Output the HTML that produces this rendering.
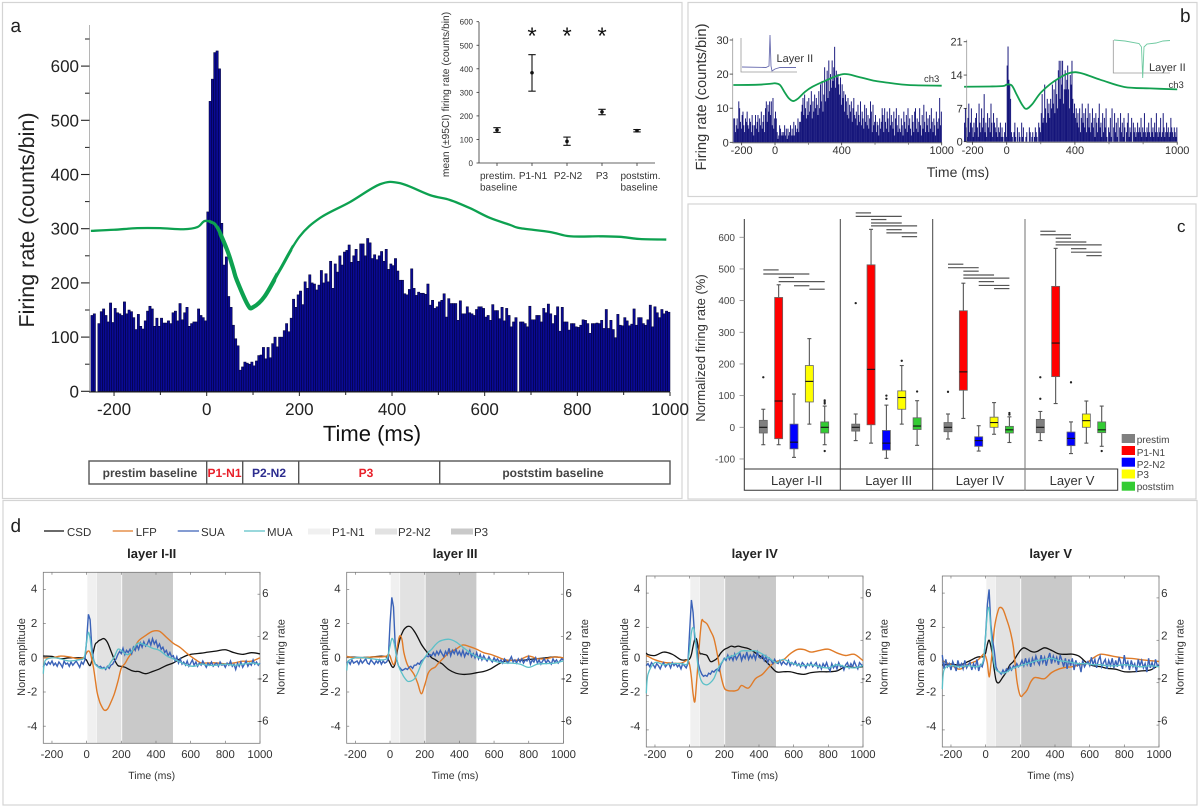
<!DOCTYPE html>
<html lang="en">
<head>
<meta charset="utf-8">
<title>Firing rate figure</title>
<style>
html,body{margin:0;padding:0;background:#fff;width:1200px;height:808px;overflow:hidden}
svg{display:block;filter:blur(.35px);font-family:"Liberation Sans",sans-serif;text-rendering:geometricPrecision}
</style>
</head>
<body>
<svg id="fig" xmlns="http://www.w3.org/2000/svg" width="1200" height="808" viewBox="0 0 1200 808">
  <defs>
    <clipPath id="taperMid"><rect id="taperMidRect" y="0" height="500"/></clipPath>
    <clipPath id="taperCore"><rect id="taperCoreRect" y="0" height="500"/></clipPath>
  </defs>
  <rect width="1200" height="808" fill="#fff"/>
  <rect x="2.5" y="2.5" width="679.5" height="496" fill="none" stroke="#d4d4d4" stroke-width="1.2"/>
  <rect x="688" y="2.5" width="509" height="194" fill="none" stroke="#d4d4d4" stroke-width="1.2"/>
  <rect x="688" y="204" width="508" height="295" fill="none" stroke="#d4d4d4" stroke-width="1.2"/>
  <rect x="3" y="500.5" width="1194" height="304.5" fill="none" stroke="#d4d4d4" stroke-width="1.2"/>

  <g id="panelA">
    <text x="10.5" y="32" font-size="19" fill="#222">a</text>
    <text transform="translate(34,220) rotate(-90)" text-anchor="middle" font-size="21.5" fill="#222">Firing rate (counts/bin)</text>
    <text x="372" y="441" text-anchor="middle" font-size="22" fill="#111">Time (ms)</text>
    <g>
      <rect x="89" y="461" width="581" height="23" fill="#fff" stroke="#555" stroke-width="1.4"/>
      <line x1="206.7" x2="206.7" y1="461" y2="484" stroke="#555" stroke-width="1.4"/>
      <line x1="242.7" x2="242.7" y1="461" y2="484" stroke="#555" stroke-width="1.4"/>
      <line x1="298.7" x2="298.7" y1="461" y2="484" stroke="#555" stroke-width="1.4"/>
      <line x1="439.7" x2="439.7" y1="461" y2="484" stroke="#555" stroke-width="1.4"/>
      <g font-size="12" font-weight="bold" text-anchor="middle">
        <text x="150" y="477" fill="#444">prestim baseline</text>
        <text x="224.5" y="477" fill="#e8202a">P1-N1</text>
        <text x="269" y="477" fill="#2d2d8f">P2-N2</text>
        <text x="366" y="477" fill="#e8202a">P3</text>
        <text x="553" y="477" fill="#444">poststim baseline</text>
      </g>
    </g>
    <text transform="translate(449,94.5) rotate(-90)" text-anchor="middle" font-size="10.3" fill="#333">mean (±95CI) firing rate (counts/bin)</text>
  </g>

  <g id="panelB">
    <text x="1180" y="22" font-size="19" fill="#222">b</text>
    <text transform="translate(706,97) rotate(-90)" text-anchor="middle" font-size="14.7" fill="#333">Firing rate (counts/bin)</text>
    <text x="958" y="177" text-anchor="middle" font-size="14" fill="#333">Time (ms)</text>
    <text x="924" y="82" font-size="9.5" fill="#333">ch3</text>
    <text x="1168.5" y="88" font-size="9.5" fill="#333">ch3</text>
    <text x="776.5" y="62" font-size="11" fill="#333">Layer II</text>
    <text x="1149" y="71" font-size="11" fill="#333">Layer II</text>
    <polyline points="741,38 741,72 797,72" fill="none" stroke="#999" stroke-width=".8"/>
    <polyline points="1113.3,40 1113.3,73 1170,73" fill="none" stroke="#999" stroke-width=".8"/>
    <polyline points="742,67 766,67.5 769,66 770,35 771,66 772,71 775,69 780,67.5 796,67.5" fill="none" stroke="#6a6db0" stroke-width=".9"/>
    <polyline points="1114,40 1125,41 1139,43.5 1141.5,47 1142.7,78 1144,47 1147,44 1156,43 1163,41 1170,40.5" fill="none" stroke="#6ec9a0" stroke-width=".9"/>
  </g>

  <g id="panelC">
    <text x="1177" y="232" font-size="17" fill="#222">c</text>
    <text transform="translate(705,348) rotate(-90)" text-anchor="middle" font-size="13" fill="#333">Normalized firing rate (%)</text>
    <polyline points="744.3,219 744.3,490.3 1117.7,490.3 1117.7,469 744.3,469" fill="none" stroke="#333" stroke-width="1"/>
    <line x1="840.3" x2="840.3" y1="219" y2="490.3" stroke="#444" stroke-width="1"/>
    <line x1="932.7" x2="932.7" y1="219" y2="490.3" stroke="#444" stroke-width="1"/>
    <line x1="1025" x2="1025" y1="219" y2="490.3" stroke="#888" stroke-width="1.2"/>
    <g font-size="13" text-anchor="middle" fill="#333">
      <text x="796.7" y="485">Layer I-II</text>
      <text x="888.7" y="485">Layer III</text>
      <text x="980" y="485">Layer IV</text>
      <text x="1072" y="485">Layer V</text>
    </g>
    <g font-size="10" fill="#444">
      <rect x="1121.7" y="434" width="13.3" height="9" fill="#808080"/>
      <text x="1136.7" y="443">prestim</text>
      <rect x="1121.7" y="446" width="13.3" height="9" fill="#f00"/>
      <text x="1136.7" y="456">P1-N1</text>
      <rect x="1121.7" y="457.7" width="13.3" height="9" fill="#00f"/>
      <text x="1136.7" y="468">P2-N2</text>
      <rect x="1121.7" y="469.5" width="13.3" height="9" fill="#ff0"/>
      <text x="1136.7" y="478">P3</text>
      <rect x="1121.7" y="481.7" width="13.3" height="9" fill="#33cc33"/>
      <text x="1136.7" y="490">poststim</text>
    </g>
  </g>

  <g id="panelD">
    <text x="10.5" y="532" font-size="19" fill="#222">d</text>
    <g font-size="11.5" fill="#333">
      <line x1="44" x2="64" y1="531" y2="531" stroke="#111" stroke-width="1.3"/>
      <text x="67" y="536">CSD</text>
      <line x1="112.7" x2="133" y1="531" y2="531" stroke="#e07b28" stroke-width="1.3"/>
      <text x="135.7" y="536">LFP</text>
      <line x1="177.7" x2="199" y1="531" y2="531" stroke="#3a62b8" stroke-width="1.3"/>
      <text x="201" y="536">SUA</text>
      <line x1="244" x2="265" y1="531" y2="531" stroke="#5cc0c8" stroke-width="1.3"/>
      <text x="267" y="536">MUA</text>
      <rect x="308" y="528.5" width="22" height="6" fill="#f0f0f0"/>
      <text x="332" y="536">P1-N1</text>
      <rect x="375" y="528.5" width="22" height="6" fill="#e2e2e2"/>
      <text x="398" y="536">P2-N2</text>
      <rect x="451" y="528.5" width="22" height="6" fill="#c9c9c9"/>
      <text x="474" y="536">P3</text>
    </g>
  </g>
</svg>

<script>
/* ---------- panel a data ---------- */
const psthTicksY = [0,100,200,300,400,500,600];
const psthTicksX = [-200,0,200,400,600,800,1000];
const psthCounts = [
140,143,0,125,147,152,140,128,163,127,
153,145,143,140,165,143,150,147,136,114,
142,120,115,130,148,157,152,120,135,120,
135,126,126,130,125,145,148,130,162,132,
145,155,120,125,128,128,152,140,136,130,
331,535,576,625,628,595,310,233,248,175,
155,122,97,84,39,45,54,52,50,54,
47,56,66,67,81,60,81,62,88,100,
82,100,100,112,125,110,135,170,155,178,
185,160,202,190,215,200,198,187,196,223,
200,217,202,240,190,235,220,250,233,257,
260,270,238,250,262,240,272,272,250,282,
274,245,252,243,250,258,240,262,225,235,
232,245,222,205,205,180,178,188,226,190,
177,183,181,181,179,198,159,168,153,156,
165,168,180,137,171,162,162,162,131,167,
143,143,156,145,143,140,151,156,156,153,
137,140,131,160,149,149,134,155,130,153,
140,119,128,136,0,128,128,125,119,157,
132,132,140,140,128,153,145,161,143,125,
140,156,111,155,128,128,113,125,125,119,
118,122,132,131,125,107,125,125,126,125,
131,116,151,116,131,114,99,142,122,121,
136,130,121,124,152,122,136,136,125,122,
132,159,119,156,145,136,151,143,148,146];
const lfpTimesA = [-250,-200,-150,-100,-50,-20,-5,10,22,44,57,65,89,100,125,158,200,245,309,374,417,482,525,568,611,655,676,741,784,849,892,935,992];
const lfpValuesA = [296,298,301,301,299,303,314,312,303,261,227,205,159,155,175,224,285,320,349,382,384,362,353,338,320,307,301,294,286,286,285,281,280];
const insetCategories = ['prestim.|baseline','P1-N1','P2-N2','P3','poststim.|baseline'];
const insetMeans = [140,383,92,217,137];
const insetLow = [130,305,75,205,132];
const insetHigh = [150,460,110,228,142];
const insetTicks = [0,100,200,300,400,500,600];
const insetStars = [1,2,3];

/* ---------- panel b data ---------- */
const unitTicksX = [-200,0,400,1000];
const unitMinorTicksX = [200,600,800];
const leftTicksY = [0,10,20,30];
const rightTicksY = [0,7,14,21];
const leftCounts = [
7,7,3,5,7,4,12,10,6,4,8,9,5,3,7,6,9,5,4,7,6,3,8,5,2,5,8,4,6,8,3,7,5,9,4,6,8,3,10,12,6,11,9,12,8,12,5,13,4,7,
9,7,3,1,2,5,4,2,3,2,3,5,2,4,1,4,2,3,5,2,4,2,6,2,5,3,4,7,3,6,6,9,11,13,8,14,10,7,12,8,13,9,11,15,7,12,9,14,10,13,
11,8,15,10,17,12,18,9,14,22,12,18,21,13,24,15,20,16,24,18,22,28,16,21,19,20,17,14,19,11,17,13,15,9,14,12,8,13,7,11,9,12,6,10,13,8,7,9,5,11,
8,6,12,5,9,7,4,11,6,10,5,8,4,7,12,9,3,11,5,6,8,3,6,5,2,7,4,6,10,8,3,10,6,4,9,7,3,10,5,8,6,4,9,2,7,10,5,3,8,4,
3,7,5,2,9,6,4,8,3,10,5,7,4,2,8,6,3,9,10,4,7,3,6,10,5,2,8,4,11,6,3,9,5,7,3,8,4,10,6,3,7,5,2,9,6,4,7,13,5,9];
const rightCounts = [
4,7,3,1,5,8,2,4,7,3,1,4,2,5,6,3,1,8,4,2,7,3,5,10,2,4,1,6,3,5,2,8,4,1,6,4,3,2,5,1,3,2,4,1,3,1,0,2,4,1,
16,20,13,12,9,2,1,0,2,4,1,0,3,0,2,1,0,4,1,3,0,0,1,2,0,0,3,2,0,1,2,0,1,3,2,1,0,4,3,2,6,10,4,5,12,7,4,9,6,8,
5,9,7,12,8,11,6,13,10,7,15,17,9,17,12,17,8,11,15,11,13,16,11,7,14,12,17,9,6,8,5,7,4,6,3,7,2,5,8,4,6,3,7,2,5,8,3,6,2,4,
7,3,5,1,6,4,2,5,8,3,4,1,6,2,5,3,7,1,0,3,2,5,1,7,0,3,6,2,4,1,5,0,3,6,2,4,1,5,3,0,2,4,6,1,3,2,5,0,4,2,
3,1,2,4,2,3,2,5,1,3,2,6,2,1,3,2,4,2,1,5,2,3,1,4,2,6,2,1,3,2,5,1,2,6,3,1,2,4,2,3,1,2,5,3,2,1,3,2,1,3];
const leftLineTimes = [-250,-100,-20,0,30,60,85,110,140,180,225,300,408,500,600,690,800,1000];
const leftLineValues = [16.8,16.9,17.2,17.3,16.8,14.5,12.8,12.1,12.9,14.8,16.3,18,20,19.2,18,17.4,16.8,16.6];
const rightLineTimes = [-250,-100,-20,0,30,60,90,115,150,205,300,403,550,690,840,1000];
const rightLineValues = [11.55,11.6,11.7,12,11.8,9.8,7.8,6.9,7.9,10.5,13.2,14.6,13,11.5,11.2,11];

/* ---------- panel c data ---------- */
const boxTicks = [-100,0,100,200,300,400,500,600];
const boxColors = ['#808080','#ff0000','#0000ff','#ffff00','#33cc33'];
const layerIBoxes = [[-55,-18,0,22,57],[-55,-36,83,410,450],[-95,-68,-47,10,105],[10,80,145,195,280],[-55,-18,0,17,67]];
const layerIIIBoxes = [[-42,-12,0,10,42],[-50,8,183,513,625],[-98,-72,-50,-10,70],[10,57,94,115,195],[-57,-7,4,30,84]];
const layerIVBoxes = [[-37,-14,0,15,42],[28,117,175,368,455],[-75,-60,-42,-30,5],[-22,0,15,32,78],[-48,-18,-8,3,33]];
const layerVBoxes = [[-42,-17,0,25,50],[75,160,266,445,565],[-83,-58,-35,-15,17],[-50,0,21,42,83],[-60,-17,-8,17,67]];
const layerIOutliers = [[158],[],[],[],[75,80,85,-75]];
const layerIIIOutliers = [[392],[],[90,100],[210],[113]];
const layerIVOutliers = [[112],[],[],[],[40,45]];
const layerVOutliers = [[90,158],[],[142],[],[-75]];
const layerISig = [[0,1,497],[0,3,484],[1,2,473],[1,4,460],[2,3,447],[3,4,436]];
const layerIIISig = [[0,1,677],[0,3,666],[1,2,656],[1,3,645],[1,4,636],[2,3,624],[2,4,614],[3,4,602]];
const layerIVSig = [[0,1,515],[0,2,504],[1,2,493],[1,3,481],[1,4,471],[2,3,460],[2,4,448],[3,4,438]];
const layerVSig = [[0,1,619],[0,2,608],[1,2,597],[1,3,585],[1,4,576],[2,3,564],[2,4,553],[3,4,542]];

/* ---------- panel d data ---------- */
const signalTimes = [-250,-240,-200,-150,-100,-50,-20,-10,0,10,20,30,40,50,60,70,80,100,120,140,160,180,200,220,240,260,280,300,340,380,420,460,500,540,580,620,660,700,750,800,850,900,950,1000];
const csdI = [.1,.1,.08,-.05,0,0,0,-.05,-.15,-.35,-.45,-.15,.4,.8,.9,1,1.05,1.12,.9,.4,-.1,-.45,-.5,-.55,-.65,-.75,-.8,-.8,-.93,-.8,-.65,-.45,-.3,-.05,.15,.23,.27,.33,.4,.47,.3,.2,.3,.23];
const lfpI = [0,0,0,.1,.05,-.05,0,.1,.3,.4,.3,-.1,-.6,-1.3,-2,-2.4,-2.7,-3.05,-3,-2.6,-2.1,-1.4,-.6,-.35,0,.3,.65,1,1.3,1.55,1.55,1.2,.85,.6,.25,-.05,-.3,-.3,-.3,-.35,-.3,-.2,-.2,0];
const muaI = [-1.5,-.3,0,-.1,-.3,-.2,-.1,.3,1.5,2.4,1.8,.5,-.2,-.6,-.8,-.9,-1,-1,-.9,-.4,.1,.8,.7,.4,.3,.6,1.1,1.4,1.2,.9,.7,.2,-.1,-.4,-.7,-.8,-.6,-.7,-.7,-.6,-.7,-.6,-.5,-.6];
const csdIII = [.05,.05,.03,.02,.05,.1,.05,-.1,-.3,-.5,-.55,-.3,.3,.8,1.2,1.45,1.65,1.83,1.8,1.55,1.2,.8,.5,.25,0,-.1,-.25,-.35,-.7,-.9,-.97,-.95,-.87,-.8,-.65,-.4,-.2,-.15,-.15,-.1,-.05,0,.05,0];
const lfpIII = [.1,.05,0,0,.05,.05,.1,.2,.1,-.2,-.4,-.2,.5,1.1,1.3,1,.3,-.4,-.7,-1,-1.5,-2.1,-1.6,-.9,-.65,-.55,-.3,-.1,.3,.5,.75,.65,.5,.3,.2,.05,-.1,-.15,-.1,.1,-.05,-.05,.05,0];
const muaIII = [-1.2,-.3,0,0,-.1,-.2,-.1,.3,1.1,1.8,1.6,.8,-.2,-.8,-1.2,-1.5,-1.8,-2.2,-2.2,-2,-1.4,-.6,0,.5,.8,1.2,1.5,1.65,1.75,1.5,1,.5,.1,-.1,-.2,-.4,-.5,-.5,-.6,-.9,-.6,-.55,-.5,-.3];
const csdIV = [.5,.4,.35,.55,.42,.1,.1,.1,.15,.4,.9,1.3,1.3,.8,.47,.45,.42,.35,0,.05,.2,.5,.7,.8,.9,.85,.9,.85,.75,.5,.2,-.2,-.6,-.6,-.6,-.7,-.75,-.65,-.6,-.6,-.55,-.3,-.35,-.3];
const lfpIV = [.35,.3,.1,-.05,-.1,-.1,.05,.1,-.2,-.9,-1.9,-2.35,-1.2,.1,1.5,2.4,2.35,2.2,1.8,1.35,.4,-.8,-1.55,-1.7,-1.72,-1.72,-1.65,-1.4,-1.55,-1,-.75,-.3,0,.1,.45,.7,.7,.55,.65,.72,.5,.35,.42,.05];
const muaIV = [-3,-1.2,-.1,-.3,-.2,-.2,-.3,0,1.2,2.7,3.2,2.6,.8,-.7,-1.5,-1.9,-2.1,-2.2,-2,-1.6,-.8,-.2,.2,.4,.5,.6,.8,1,1,1,.7,.3,-.1,.2,-.1,-.3,-.4,-.3,-.5,-.6,-.3,-.5,-.6,-.4];
const csdV = [-.2,-.2,-.15,-.2,0,.25,.27,.3,.5,1,1.25,.9,.3,-.5,-1.1,-1.25,-1.2,-.9,-.6,-.2,0,.35,.65,.8,.72,.6,.55,.6,.8,.65,.45,.42,.43,.3,-.05,-.25,-.3,-.4,-.45,-.6,-.6,-.55,-.5,-.2];
const lfpV = [.1,0,-.2,-.45,-.15,.05,.35,.45,.3,-.1,-.9,-.2,.8,1.9,2.5,2.9,3.15,3.05,2.5,1.85,.85,-1.1,-2,-1.9,-1.65,-1.2,-.95,-.95,-1,-.65,-.45,-.35,-.3,-.2,-.1,.2,.42,.38,.28,.2,.17,.1,.05,0];
const muaV = [-2.6,-.8,-.4,-.5,-.4,-.5,-.2,.5,2.5,4.6,5,3,1,-.3,-.8,-.9,-1,-1.1,-1,-.8,-.6,-.5,-.4,-.3,-.2,-.1,0,.1,.2,.3,.1,0,-.1,-.2,-.2,-.3,-.3,-.4,-.4,-.3,-.4,-.5,-.4,-.5];
const suaI = [-.9,-.5,-.7,-.4,-.6,-.3,-.7,-.5,-.8,-.4,-.6,-.9,-.3,-.6,-.5,-.8,-.4,-.7,-.5,-.3,-.6,-.9,-.4,-.6,-.2,
1.6,4.1,3.6,1,-.2,-.6,-.7,-.9,-.8,-1,-.9,-1.1,-.8,-1,-.7,-.6,-.3,-.1,.3,.6,.4,.9,.3,.7,.5,
.8,.4,1,.7,1.2,.8,1.4,1,1.5,1.1,1.3,1.7,1.2,1.8,1.3,1.6,1,1.3,.8,1,.5,.7,.2,.5,.1,
.2,-.3,.1,-.5,-.1,-.6,-.4,-.7,-.3,-.8,-.5,-.2,-.7,-.4,-.8,-.5,-.7,-.3,-.6,-.9,-.5,-.7,-.4,-.8,-.6,
-.5,-.8,-.4,-.7,-.6,-.9,-.5,-.7,-.3,-.8,-.6,-1.1,-.5,-.8,-.4,-.9,-.6,-.3,-.8,-.5,-.7,-.2,-.6,-.4,-.7,-.5];
const suaIII = [-.5,-.3,-.6,-.2,-.5,-.4,-.3,-.6,-.2,-.5,-.3,-.1,-.5,-.6,-.2,-.4,-.6,-.3,-.5,-.2,-.6,-.3,-.5,-.4,-.1,
3.2,5.7,4.8,1.2,-.3,-.8,-1,-1.2,-1.1,-1,-1.1,-.9,-.8,-1,-.7,-.7,-.5,-.6,-.3,-.2,0,.2,.1,.3,.2,
.5,.2,.6,.3,.7,.4,.1,.6,.3,.9,.2,.7,.4,.8,.3,.6,.2,.7,.1,.5,.3,.7,.1,.4,0,
.5,-.1,.3,-.2,.2,-.1,-.3,.1,-.2,-.4,0,-.3,-.1,-.4,-.2,-.5,-.1,-.3,-.5,-.2,.1,-.4,-.2,-.5,-.1,
-.4,-.1,-.5,-.2,-.3,.1,-.6,-.2,-.4,0,-.5,-.2,-.6,-.3,-.1,-.5,-.2,-.4,-.6,-.1,-.4,-.2,-.5,-.3,-.1,-.2];
const suaIV = [-.4,-.2,-.5,-.1,-.3,-.6,-.2,-.4,-.7,-.3,-.1,-.5,-.3,-.2,-.6,-.1,-.4,-.2,-.5,-.3,-.7,-.2,-.4,-.6,-.2,
2.8,5.8,4.6,2.1,1.6,-.2,-.8,-1.2,-1.4,-1.3,-1.4,-1.1,-1.2,-.9,-1,-.8,-.7,-.9,-.3,0,.3,.1,.6,.2,.5,
.1,.7,.2,.5,.8,.1,.6,.3,.9,.2,.6,.3,.7,.2,.9,.4,.3,.6,.1,.5,-.1,.3,.1,-.2,.2,
-.1,-.2,.1,-.3,0,-.2,-.3,.1,-.4,-.1,-.3,0,-.4,-.2,-.5,-.1,-.3,-.6,-.2,-.4,-.1,-.5,-.3,-.1,-.6,
-.3,-.7,-.2,-.5,-.1,-.6,-.9,-.2,-.6,-.3,-.7,-.1,-.5,-.4,-.8,-.3,-.1,-.6,-.2,-.5,0,-.4,-.7,-.1,-.3,-.4];
const suaV = [.6,-.7,.2,-.5,-.2,-.8,0,-.4,-.9,.1,-.5,-.2,-.7,.1,-.6,-.3,-.1,-.8,-.2,-.6,.2,-.9,-.3,-.5,.1,
2.5,5.4,6.8,3.5,2,1,-.5,-.9,-1,-1.2,-.8,-1.1,-.7,-.9,-.5,-.8,-.4,-.6,-.2,-.5,-.3,.1,-.4,.3,-.3,
.2,-.5,.3,-.2,.5,0,-.3,.6,-.1,.4,-.4,.3,.8,-.2,.5,0,.4,-.3,.6,.1,-.5,.3,-.7,.2,-.4,
.3,-.8,.1,-.4,-.2,-1,.1,-.5,-.2,0,-.4,.4,-.3,.2,-.6,.1,.5,-.5,-.1,.2,-.7,.1,-.4,.3,-.6,
.1,-.5,.4,-.2,-.7,.6,-.4,0,-.8,.1,-.5,-.2,-1,.2,-.4,.1,-.6,-.2,-1,.3,-.6,-.1,-.7,.2,-.4,-.3];
const amplitudeTicks = [-4,-2,0,2,4];
const firingTicks = [-6,-2,2,6];
const timeTicks = [-200,0,200,400,600,800,1000];
const epochStart = [4,58,205];
const epochEnd = [55,200,498];
const epochShades = ['#f0f0f0','#e2e2e2','#c9c9c9'];

/* ---------- helpers ---------- */
const NS = 'http://www.w3.org/2000/svg';
function add(parent, tag, attrs, text) {
  const el = document.createElementNS(NS, tag);
  for (const k in attrs) el.setAttribute(k, attrs[k]);
  if (text !== undefined) el.textContent = text;
  parent.appendChild(el);
  return el;
}
function curve(xs, ys) {
  let d = 'M' + xs[0].toFixed(2) + ' ' + ys[0].toFixed(2);
  for (let i = 0; i < xs.length - 1; i++) {
    const a = Math.max(i - 1, 0), b = Math.min(i + 2, xs.length - 1);
    const c1x = xs[i] + (xs[i + 1] - xs[a]) / 6, c1y = ys[i] + (ys[i + 1] - ys[a]) / 6;
    const c2x = xs[i + 1] - (xs[b] - xs[i]) / 6, c2y = ys[i + 1] - (ys[b] - ys[i]) / 6;
    d += 'C' + c1x.toFixed(2) + ' ' + c1y.toFixed(2) + ' ' + c2x.toFixed(2) + ' ' + c2y.toFixed(2) + ' ' + xs[i + 1].toFixed(2) + ' ' + ys[i + 1].toFixed(2);
  }
  return d;
}

/* ---------- panel a ---------- */
const panelA = document.getElementById('panelA');
const xA = t => 206.7 + t * 0.4633;
const yA = v => 391.3 - v * 0.542;
const binA = 5;
psthCounts.forEach((c, i) => {
  const t = -250 + i * binA;
  const bar = add(panelA, 'rect', {x: xA(t), y: yA(c), width: binA * 0.4633, height: yA(0) - yA(c), fill: '#0a0a94', stroke: '#000030', 'stroke-width': 0.5});
  
  
});
const aAxisY = add(panelA, 'line', {x1: 89.5, x2: 89.5, y1: 25, y2: 392, stroke: '#b5b5b5', 'stroke-width': 1});


const aAxisX = add(panelA, 'line', {x1: 89, x2: 670, y1: 392, y2: 392, stroke: '#222', 'stroke-width': 1});


psthTicksY.forEach(v => {
  const tick = add(panelA, 'line', {x1: 81, x2: 89.5, y1: yA(v), y2: yA(v), stroke: '#222', 'stroke-width': 1.1});
  
  
  const minor = add(panelA, 'line', {x1: 85, x2: 89.5, y1: yA(v + 50), y2: yA(v + 50), stroke: '#222', 'stroke-width': 1});
  
  
  const label = add(panelA, 'text', {x: 79, y: yA(v) + 6, 'text-anchor': 'end', 'font-size': 17, fill: '#222'}, String(v));
  
  
});
psthTicksX.forEach(t => {
  const tick = add(panelA, 'line', {x1: xA(t), x2: xA(t), y1: 392, y2: 396, stroke: '#222', 'stroke-width': 1});
  
  
  if (t < 1000) {
    const minor = add(panelA, 'line', {x1: xA(t + 100), x2: xA(t + 100), y1: 392, y2: 395, stroke: '#222', 'stroke-width': 1});
    
    
  }
  const label = add(panelA, 'text', {x: xA(t), y: 415, 'text-anchor': 'middle', 'font-size': 17, fill: '#222'}, String(t));
  
  
});
const lfpAPath = curve(lfpTimesA.map(xA), lfpValuesA.map(yA));
const lfpA = add(panelA, 'path', {d: lfpAPath, fill: 'none', stroke: '#0da150', 'stroke-width': 2.3});


const taperMid = document.getElementById('taperMidRect');
taperMid.setAttribute('x', xA(5));
taperMid.setAttribute('width', xA(185) - xA(5));
const taperCore = document.getElementById('taperCoreRect');
taperCore.setAttribute('x', xA(25));
taperCore.setAttribute('width', xA(150) - xA(25));
const lfpAMid = add(panelA, 'path', {d: lfpAPath, fill: 'none', stroke: '#0da150', 'stroke-width': 3.1, 'clip-path': 'url(#taperMid)'});


const lfpACore = add(panelA, 'path', {d: lfpAPath, fill: 'none', stroke: '#0da150', 'stroke-width': 4.2, 'clip-path': 'url(#taperCore)'});



/* inset */
const xI = i => 497 + i * 35;
const yI = v => 163 - v * 0.2355;
const insetY = add(panelA, 'line', {x1: 479, x2: 479, y1: 22, y2: 163, stroke: '#333', 'stroke-width': 0.8});


const insetX = add(panelA, 'line', {x1: 479, x2: 655, y1: 163, y2: 163, stroke: '#333', 'stroke-width': 0.8});


insetTicks.forEach(v => {
  const t = add(panelA, 'line', {x1: 476.5, x2: 479, y1: yI(v), y2: yI(v), stroke: '#333', 'stroke-width': 0.8});
  
  
  const l = add(panelA, 'text', {x: 473, y: yI(v) + 3, 'text-anchor': 'end', 'font-size': 8, fill: '#333'}, String(v));
  
  
});
insetCategories.forEach((c, i) => {
  const t = add(panelA, 'line', {x1: xI(i), x2: xI(i), y1: 163, y2: 166, stroke: '#333', 'stroke-width': 0.8});
  
  
  const parts = c.split('|');
  parts.forEach((p, k) => {
    const anchorX = i === 0 ? 480 : (i === 4 ? 620.5 : xI(i) + (i === 1 ? 1 : i === 2 ? 1 : 0));
    const l = add(panelA, 'text', {x: anchorX, y: 179 + k * 11.5, 'text-anchor': (i === 0 || i === 4) ? 'start' : 'middle', 'font-size': 10, fill: '#333'}, p);
    
    
  });
  const stem = add(panelA, 'line', {x1: xI(i), x2: xI(i), y1: yI(insetLow[i]), y2: yI(insetHigh[i]), stroke: '#111', 'stroke-width': 1.1});
  
  
  const capLow = add(panelA, 'line', {x1: xI(i) - 3.7, x2: xI(i) + 3.7, y1: yI(insetLow[i]), y2: yI(insetLow[i]), stroke: '#111', 'stroke-width': 1.1});
  
  
  const capHigh = add(panelA, 'line', {x1: xI(i) - 3.7, x2: xI(i) + 3.7, y1: yI(insetHigh[i]), y2: yI(insetHigh[i]), stroke: '#111', 'stroke-width': 1.1});
  
  
  const dot = add(panelA, 'circle', {cx: xI(i), cy: yI(insetMeans[i]), r: 1.8, fill: '#111'});
  
  
});
insetStars.forEach(i => {
  const s = add(panelA, 'text', {x: xI(i), y: 44, 'text-anchor': 'middle', 'font-size': 24, fill: '#111'}, '*');
  
  
});

/* ---------- panel b ---------- */
const panelB = document.getElementById('panelB');
function unitHist(counts, x0, xs, y0, ys, ticksY, lineT, lineV, axisX, rightEnd) {
  const x = t => x0 + t * xs;
  const y = v => y0 - v * ys;
  counts.forEach((c, i) => {
    const t = -250 + i * 5;
    const bar = add(panelB, 'rect', {x: x(t), y: y(c), width: 5 * xs + 0.12, height: c * ys, fill: '#14147a'});
    
    
  });
  const line = add(panelB, 'path', {d: curve(lineT.map(x), lineV.map(y)), fill: 'none', stroke: '#12a050', 'stroke-width': 1.8});
  
  
  const axY = add(panelB, 'line', {x1: axisX, x2: axisX, y1: y(ticksY[3]) - 2, y2: y0 + 1, stroke: '#999', 'stroke-width': 0.8});
  
  
  const axX = add(panelB, 'line', {x1: axisX, x2: rightEnd, y1: y0 + 0.5, y2: y0 + 0.5, stroke: '#555', 'stroke-width': 0.8});
  
  
  ticksY.forEach(v => {
    const t = add(panelB, 'line', {x1: axisX - 3, x2: axisX, y1: y(v), y2: y(v), stroke: '#333', 'stroke-width': 0.8});
    
    
    const l = add(panelB, 'text', {x: axisX - 4, y: y(v) + 4, 'text-anchor': 'end', 'font-size': 11, fill: '#333'}, String(v));
    
    
  });
  unitTicksX.forEach(t => {
    const m = add(panelB, 'line', {x1: x(t), x2: x(t), y1: y0, y2: y0 + 3, stroke: '#333', 'stroke-width': 0.8});
    
    
    const l = add(panelB, 'text', {x: x(t), y: 154, 'text-anchor': 'middle', 'font-size': 11, fill: '#333'}, String(t));
    
    
  });
  unitMinorTicksX.forEach(t => {
    const m = add(panelB, 'line', {x1: x(t), x2: x(t), y1: y0, y2: y0 + 2.5, stroke: '#555', 'stroke-width': 0.7});
    
    
  });
}
unitHist(leftCounts, 775, 0.1667, 142.3, 3.41, leftTicksY, leftLineTimes, leftLineValues, 732.7, 942);
unitHist(rightCounts, 1006.7, 0.1705, 141.7, 4.76, rightTicksY, rightLineTimes, rightLineValues, 966.7, 1177);

/* ---------- panel c ---------- */
const panelC = document.getElementById('panelC');
const yC = v => 427.3 - v * 0.3167;
boxTicks.forEach(v => {
  const t = add(panelC, 'line', {x1: 739.5, x2: 744.3, y1: yC(v), y2: yC(v), stroke: '#888', 'stroke-width': 0.8});
  
  
  const l = add(panelC, 'text', {x: 735, y: yC(v) + 3.6, 'text-anchor': 'end', 'font-size': 10, fill: '#444'}, String(v));
  
  
});
const layerBoxes = [layerIBoxes, layerIIIBoxes, layerIVBoxes, layerVBoxes];
const layerOutliers = [layerIOutliers, layerIIIOutliers, layerIVOutliers, layerVOutliers];
const layerSig = [layerISig, layerIIISig, layerIVSig, layerVSig];
const firstBoxX = [763.3, 855.7, 948, 1040.3];
layerBoxes.forEach((boxes, L) => {
  const xc = j => firstBoxX[L] + j * 15.35;
  boxes.forEach((b, j) => {
    const stem = add(panelC, 'line', {x1: xc(j), x2: xc(j), y1: yC(b[0]), y2: yC(b[4]), stroke: '#555', 'stroke-width': 1.1});
    
    
    const capLo = add(panelC, 'line', {x1: xc(j) - 2, x2: xc(j) + 2, y1: yC(b[0]), y2: yC(b[0]), stroke: '#555', 'stroke-width': 1.1});
    
    
    const capHi = add(panelC, 'line', {x1: xc(j) - 2, x2: xc(j) + 2, y1: yC(b[4]), y2: yC(b[4]), stroke: '#555', 'stroke-width': 1.1});
    
    
    const box = add(panelC, 'rect', {x: xc(j) - 4, y: yC(b[3]), width: 8, height: yC(b[1]) - yC(b[3]), fill: boxColors[j], stroke: '#666', 'stroke-width': 0.8});
    
    
    const med = add(panelC, 'line', {x1: xc(j) - 4, x2: xc(j) + 4, y1: yC(b[2]), y2: yC(b[2]), stroke: '#111', 'stroke-width': 1.1});
    
    
    layerOutliers[L][j].forEach(o => {
      const pt = add(panelC, 'circle', {cx: xc(j), cy: yC(o), r: 1.15, fill: '#222'});
      
      
    });
  });
  layerSig[L].forEach(s => {
    const bar = add(panelC, 'line', {x1: xc(s[0]), x2: xc(s[1]), y1: yC(s[2]), y2: yC(s[2]), stroke: '#555', 'stroke-width': 1.2});
    
    
  });
});

/* ---------- panel d ---------- */
const panelD = document.getElementById('panelD');
const chartTitles = ['layer I-II', 'layer III', 'layer IV', 'layer V'];
const chartLeft = [43.3, 346.7, 646.3, 942.3];
const chartTop = [572.3, 572.3, 576, 576];
const chartCsd = [csdI, csdIII, csdIV, csdV];
const chartLfp = [lfpI, lfpIII, lfpIV, lfpV];
const chartMua = [muaI, muaIII, muaIV, muaV];
const chartSua = [suaI, suaIII, suaIV, suaV];
chartTitles.forEach((title, c) => {
  const L = chartLeft[c], T = chartTop[c], W = 216.7, H = 171;
  const x = t => L + (t + 250) * W / 1250;
  const yL = v => T + H / 2 - v * 17.1;
  const yR = v => T + H / 2 - v * 10.6;
  const head = add(panelD, 'text', {x: L + 108.4, y: 558, 'text-anchor': 'middle', 'font-size': 13, 'font-weight': 'bold', fill: '#222'}, title);
  
  
  epochStart.forEach((s, i) => {
    const r = add(panelD, 'rect', {x: x(s), y: T, width: x(epochEnd[i]) - x(s), height: H, fill: epochShades[i]});
    
    
  });
  const frame = add(panelD, 'rect', {x: L, y: T, width: W, height: H, fill: 'none', stroke: '#777', 'stroke-width': 0.8});
  
  
  const csd = add(panelD, 'path', {d: curve(signalTimes.map(x), chartCsd[c].map(yL)), fill: 'none', stroke: '#111', 'stroke-width': 1.3});
  
  
  const lfp = add(panelD, 'path', {d: curve(signalTimes.map(x), chartLfp[c].map(yL)), fill: 'none', stroke: '#e07b28', 'stroke-width': 1.4});
  
  
  const suaPts = chartSua[c].map((v, i) => x(-250 + i * 10).toFixed(1) + ',' + yR(v).toFixed(1)).join(' ');
  const sua = add(panelD, 'polyline', {points: suaPts, fill: 'none', stroke: '#3a62b8', 'stroke-width': 1.4});
  
  
  const mua = add(panelD, 'path', {d: curve(signalTimes.map(x), chartMua[c].map(yR)), fill: 'none', stroke: '#5cc0c8', 'stroke-width': 1.3});
  
  
  amplitudeTicks.forEach(v => {
    const t = add(panelD, 'line', {x1: L, x2: L + 2.5, y1: yL(v), y2: yL(v), stroke: '#777', 'stroke-width': 0.7});
    
    
    const l = add(panelD, 'text', {x: L - 6, y: 657.3 - v * 17.15 + 4, 'text-anchor': 'end', 'font-size': 11.5, fill: '#333'}, String(v));
    
    
  });
  firingTicks.forEach(v => {
    const t = add(panelD, 'line', {x1: L + W - 2.5, x2: L + W, y1: yR(v), y2: yR(v), stroke: '#777', 'stroke-width': 0.7});
    
    
    const l = add(panelD, 'text', {x: L + W + 8.5, y: 656.8 - v * 10.6 + 4, 'text-anchor': 'end', 'font-size': 11.5, fill: '#333'}, String(v));
    
    
  });
  timeTicks.forEach(t => {
    const m = add(panelD, 'line', {x1: x(t), x2: x(t), y1: T + H - 2.5, y2: T + H, stroke: '#777', 'stroke-width': 0.7});
    
    
    const m2 = add(panelD, 'line', {x1: x(t), x2: x(t), y1: T, y2: T + 2.5, stroke: '#777', 'stroke-width': 0.7});
    
    
    const l = add(panelD, 'text', {x: x(t), y: 758, 'text-anchor': 'middle', 'font-size': 11.3, fill: '#333'}, String(t));
    
    
  });
  const xt = add(panelD, 'text', {x: L + 108.4, y: 779, 'text-anchor': 'middle', 'font-size': 10.5, fill: '#333'}, 'Time (ms)');
  
  
  const yt = add(panelD, 'text', {transform: 'translate(' + (L - 18.5) + ',657) rotate(-90)', 'text-anchor': 'middle', 'font-size': 11, fill: '#333'}, 'Norm amplitude');
  
  
  const yr = add(panelD, 'text', {transform: 'translate(' + (L + W + 24.5) + ',657) rotate(-90)', 'text-anchor': 'middle', 'font-size': 11, fill: '#333'}, 'Norm firing rate');
  
  
});
</script>
</body>
</html>
